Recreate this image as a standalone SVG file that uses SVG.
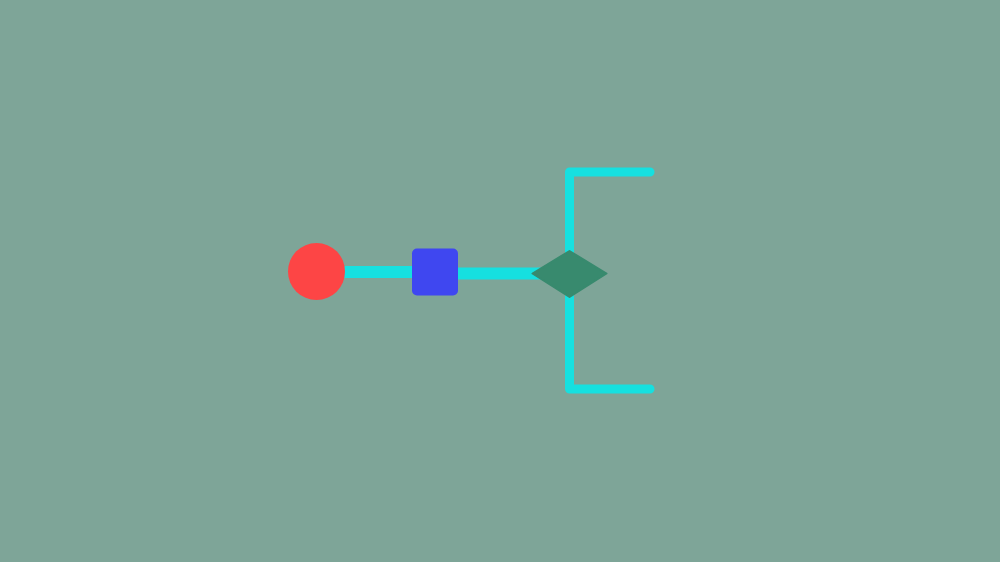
<svg xmlns="http://www.w3.org/2000/svg" width="1000" height="562" viewBox="0 0 1000 562">
<style>
.conn{fill:none;stroke:#16e0e0;stroke-linecap:round;stroke-linejoin:round}
</style>
<rect width="1000" height="562" fill="#7ea598"/>
<g id="connectors">
<path class="conn" d="M345 272 H412" stroke-width="12"/>
<path class="conn" d="M458 273.5 H540" stroke-width="12"/>
<path class="conn" d="M650 172 H569.5 V389 H650" stroke-width="9"/>
</g>
<g id="start"><circle cx="316.5" cy="271.5" r="28.5" fill="#fd4545"/></g>
<g id="process"><rect x="412" y="248.5" width="46" height="47" rx="5" fill="#3f47f0"/></g>
<g id="decision"><polygon points="569.5,251 606.5,273.5 569.5,297 532.5,273.5" fill="#388a6e" stroke="#388a6e" stroke-width="2" stroke-linejoin="round"/></g>
</svg>
